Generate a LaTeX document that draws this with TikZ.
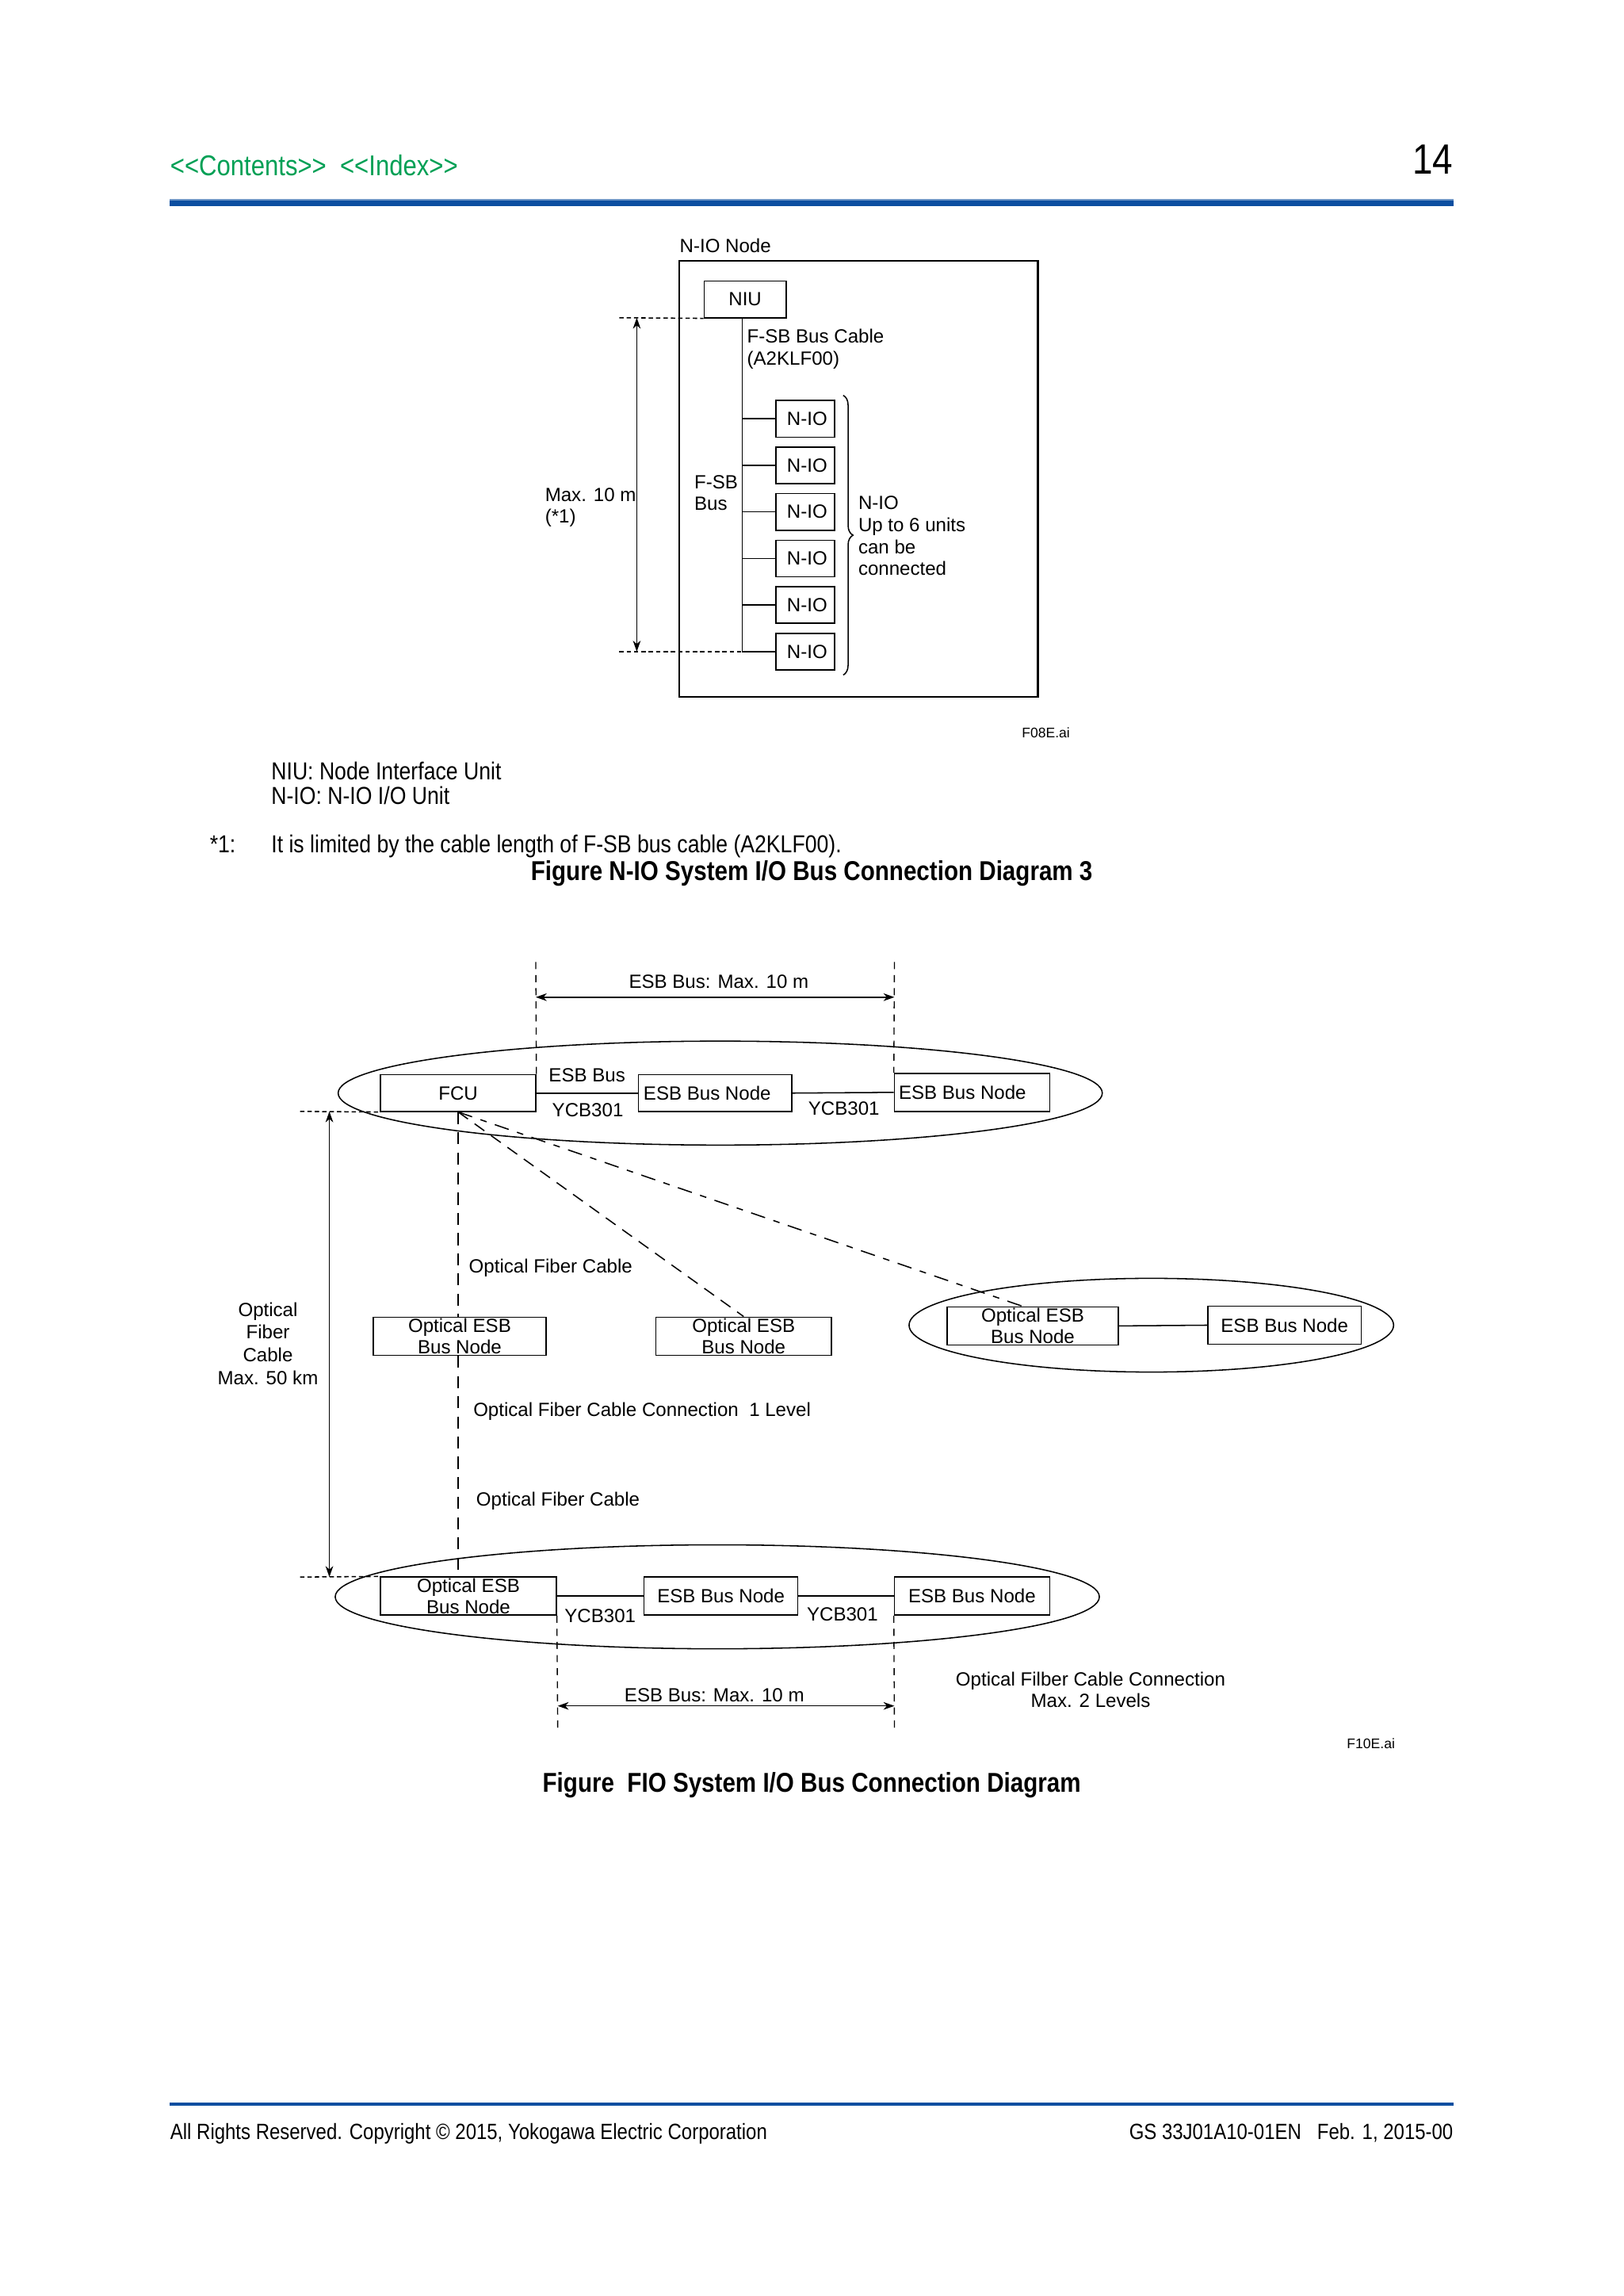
\documentclass[tikz,border=0pt]{standalone}
\usepackage{fontspec}
\setmainfont{Liberation Sans}
\newfontfamily\narrowfont{Liberation Sans}[FakeStretch=0.86]
\usetikzlibrary{arrows.meta,shapes.geometric,decorations.pathreplacing}
\newcommand{\pxu}{0.5368pt}
\definecolor{hdrgreen}{RGB}{0,160,85}
\definecolor{hdrblue}{RGB}{12,78,160}
\tikzset{
  diag/.style={font=\fontsize{7}{8}\selectfont},
  lbl/.style={diag, inner sep=0pt},
  box/.style={diag, draw, fill=white, line width=0.45pt, inner sep=0pt, align=center},
  sbox/.style={diag, draw, fill=white, line width=0.45pt, inner sep=0pt},
  grp/.style={draw, ellipse, line width=0.45pt, inner sep=0pt},
  ln/.style={line width=0.45pt},
  extl/.style={line width=0.45pt, dash pattern=on 1.6pt off 1.1pt},
  fine/.style={line width=0.4pt, dash pattern=on 2.6pt off 2.2pt},
  fiber/.style={line width=0.45pt, dash pattern=on 4.4pt off 3pt},
  fiberb/.style={line width=0.45pt, dash pattern=on 5.4pt off 3.2pt on 2.4pt off 3.2pt},
  dim/.style={line width=0.45pt, {Stealth[length=4pt,width=2.8pt,inset=1.2pt]}-{Stealth[length=4pt,width=2.8pt,inset=1.2pt]}},
  body/.style={inner sep=0pt, font=\narrowfont\fontsize{9}{9.2}\selectfont},
  figcap/.style={inner sep=0pt, font=\narrowfont\bfseries\fontsize{10}{12}\selectfont},
  foot/.style={inner sep=0pt, font=\narrowfont\fontsize{8.1}{9}\selectfont},
  tiny/.style={inner sep=0pt, font=\fontsize{5.1}{6}\selectfont}
}
\begin{document}
\begin{tikzpicture}[x=0.5368pt,y=-0.5368pt]
\useasboundingbox[fill=white] (0,0) rectangle (1109,1568);

% ---------- header ----------
\node[inner sep=0pt, anchor=base west, text=hdrgreen, font=\narrowfont\fontsize{10.5}{12}\selectfont] (hdr) at (116,120) {<<Contents>>\ \ <<Index>>};
\node[inner sep=0pt, anchor=base east, font=\narrowfont\fontsize{15.5}{16}\selectfont] (pgno) at (993,119) {14};
\draw[hdrblue!60, line width=0.5pt] (116,136.6) -- (993,136.6);
\draw[hdrblue, line width=2pt] (116,139) -- (993,139);

% ---------- figure 1 : N-IO node ----------
\node[lbl, anchor=west] (nionode) at (464,168) {N-IO Node};
\node[draw, line width=0.6pt, minimum width=245*\pxu, minimum height=298*\pxu, inner sep=0pt] (outer) at (586.5,327) {};
\node[box, minimum width=56*\pxu, minimum height=25*\pxu] (niu) at (509,204.5) {NIU};
\coordinate (b0) at (507,217);
\coordinate (b6) at (507,445);
\foreach \i/\y in {1/286,2/317.8,3/349.6,4/381.4,5/413.2,6/445}{
  \node[sbox, minimum width=40*\pxu, minimum height=25*\pxu] (nio\i) at (550,\y) {\kern1.5pt N-IO};
  \draw[ln] (b0 |- nio\i.west) -- (nio\i.west);
}
\draw[ln] (b0) -- (b6);
\coordinate (ext1) at (423,217);
\coordinate (ext2) at (423,445);
\draw[extl] (ext1) -- (niu.south west);
\draw[extl] (ext2) -- (b6);
\coordinate (ar1) at (435,217);
\coordinate (ar2) at (435,445);
\draw[dim] (ar1) -- (ar2);
\node[lbl, anchor=west, align=left] (max10) at (372,346.5) {Max. 10 m\\(*1)};
\node[lbl, anchor=west, align=left] (fsbbus) at (474,336.5) {F-SB\\Bus};
\node[lbl, anchor=west, align=left] (fsbcable) at (510,238.5) {F-SB Bus Cable\\(A2KLF00)};
\coordinate (br1) at (576,270);
\coordinate (br2) at (576,461);
\draw[line width=0.45pt, decorate, decoration={brace, amplitude=3.6pt}] (br1) -- (br2);
\node[lbl, anchor=west, align=left] (upto) at (586,366) {N-IO\\Up to 6 units\\can be\\connected};
\node[tiny] (f08) at (714.5,500.5) {F08E.ai};

\node[body, anchor=base west] (leg1) at (185,532.5) {NIU: Node Interface Unit};
\node[body, anchor=base west] (leg2) at (185,549.5) {N-IO: N-IO I/O Unit};
\node[body, anchor=base west] (note1a) at (143,582.5) {*1:};
\node[body, anchor=base west] (note1b) at (185,582.5) {It is limited by the cable length of F-SB bus cable (A2KLF00).};
\node[figcap, anchor=base] (cap1) at (554.5,601) {Figure N-IO System I/O Bus Connection Diagram 3};

% ---------- figure 2 : FIO ----------
% top group
\node[grp, minimum width=522*\pxu, minimum height=71*\pxu] (g1) at (492,746.5) {};
\node[sbox, minimum width=106*\pxu, minimum height=25*\pxu] (fcu) at (313,746.5) {FCU};
\node[sbox, minimum width=105*\pxu, minimum height=25*\pxu] (esb1) at (488.5,746.5) {ESB Bus Node\kern5.8pt};
\node[sbox, minimum width=106*\pxu, minimum height=26*\pxu] (esb2) at (664,746) {ESB Bus Node\kern7pt};
\draw[ln] (fcu.east) -- (esb1.west);
\draw[ln] (esb1.east) -- (esb2.west);
\node[lbl] (esbbus) at (401,734.5) {ESB Bus};
\node[lbl] (ycb1) at (401.5,758) {YCB301};
\node[lbl] (ycb2) at (576.5,757) {YCB301};
\coordinate (t1) at (366,657);
\coordinate (t2) at (611,657);
\draw[fine] (t1) -- (fcu.north east);
\draw[fine] (t2) -- (esb2.north west);
\coordinate (ta1) at (366,681);
\coordinate (ta2) at (611,681);
\draw[dim] (ta1) -- (ta2);
\node[lbl] (esbmax1) at (491,670.5) {ESB Bus: Max. 10 m};

% second level
\node[box, minimum width=118*\pxu, minimum height=26*\pxu] (optA) at (314,912.5) {Optical ESB\\Bus Node};
\node[box, minimum width=120*\pxu, minimum height=26*\pxu] (optB) at (508,912.5) {Optical ESB\\Bus Node};
\node[grp, minimum width=331*\pxu, minimum height=64*\pxu] (g2) at (786.5,905) {};
\node[box, minimum width=117*\pxu, minimum height=26*\pxu] (optC) at (705.5,905.5) {Optical ESB\\Bus Node};
\node[sbox, minimum width=105*\pxu, minimum height=26*\pxu] (esbD) at (877.5,905) {ESB Bus Node};
\draw[ln] (optC.east) -- (esbD.west);

% bottom group
\node[grp, minimum width=522*\pxu, minimum height=71*\pxu] (g3) at (490,1090.5) {};
\node[box, minimum width=120*\pxu, minimum height=26*\pxu] (optL) at (320,1090) {Optical ESB\\Bus Node};
\node[sbox, minimum width=105*\pxu, minimum height=26*\pxu] (esb3) at (492.5,1090) {ESB Bus Node};
\node[sbox, minimum width=106*\pxu, minimum height=26*\pxu] (esb4) at (664,1090) {ESB Bus Node};
\draw[ln] (optL.east) -- (esb3.west);
\draw[ln] (esb3.east) -- (esb4.west);
\node[lbl] (ycb3) at (410,1103.5) {YCB301};
\node[lbl] (ycb4) at (575.5,1102.5) {YCB301};

% fiber cables
\draw[fiber] (fcu.south) -- (fcu.south |- optA.north);
\draw[fiber] (fcu.south |- optA.south) -- (fcu.south |- optL.north);
\draw[fiber] (fcu.south) -- (optB.north);
\draw[fiberb] (fcu.south) -- ([xshift=-7*\pxu]optC.north);
\node[lbl, anchor=west] (ofc1) at (320,866) {Optical Fiber Cable};
\node[lbl, anchor=west] (ofc2) at (323,964) {Optical Fiber Cable Connection\ \ 1 Level};
\node[lbl, anchor=west] (ofc3) at (325,1025) {Optical Fiber Cable};

% 50 km dimension
\coordinate (e1) at (205,759);
\coordinate (e2) at (205,1077);
\draw[extl] (e1) -- (fcu.south west);
\draw[extl] (e2) -- (optL.north west);
\coordinate (v1) at (225,759);
\coordinate (v2) at (225,1077);
\draw[dim] (v1) -- (v2);
\node[lbl, align=center, font=\fontsize{7}{8.3}\selectfont] (km50) at (183,917.5) {Optical\\Fiber\\Cable\\Max. 50 km};

% lower ESB dimension
\coordinate (u1) at (381,1180);
\coordinate (u2) at (611,1180);
\draw[fine] (optL.south east) -- (u1);
\draw[fine] (esb4.south west) -- (u2);
\coordinate (ua1) at (381,1165);
\coordinate (ua2) at (611,1165);
\draw[dim] (ua1) -- (ua2);
\node[lbl] (esbmax2) at (488,1157.5) {ESB Bus: Max. 10 m};
\node[lbl, align=center] (lev2) at (745,1154) {Optical Filber Cable Connection\\Max. 2 Levels};
\node[tiny] (f10) at (936.5,1190.5) {F10E.ai};
\node[figcap, anchor=base] (cap2) at (554.5,1224) {Figure\ \ FIO System I/O Bus Connection Diagram};

% ---------- footer ----------
\draw[hdrblue, line width=1.3pt] (116,1437) -- (993,1437);
\node[foot, anchor=base west] (copy) at (116,1461) {All Rights Reserved. Copyright © 2015, Yokogawa Electric Corporation};
\node[foot, anchor=base east] (docno) at (993,1461) {GS 33J01A10-01EN\ \ \ Feb. 1, 2015-00};
\end{tikzpicture}
\end{document}
